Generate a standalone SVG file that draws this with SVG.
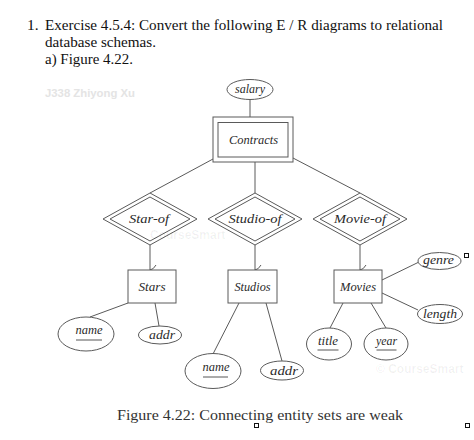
<svg xmlns="http://www.w3.org/2000/svg" width="474" height="440" viewBox="0 0 474 440">
<defs>
<style>
.hd{font-family:"Liberation Serif","Times New Roman",serif;font-size:15.5px;fill:#111}
.lb{font-family:"Liberation Serif","Times New Roman",serif;font-style:italic;font-size:12px;fill:#2a2a2a;text-anchor:middle}
.cap{font-family:"Liberation Serif","Times New Roman",serif;font-size:14px;fill:#333}
.wm{font-family:"Liberation Sans",Arial,sans-serif;font-weight:bold;font-size:10px;fill:#e4e4e4}
.sh{fill:#fff;stroke:#5a5a5a;stroke-width:1}
.ln{fill:none;stroke:#5a5a5a;stroke-width:1}
.ul{stroke:#444;stroke-width:0.9}
.sq{fill:#fff;stroke:#111;stroke-width:1}
</style>
<marker id="arr" viewBox="-6 -7 12 8" refX="0" refY="0" markerWidth="12" markerHeight="8" markerUnits="userSpaceOnUse" orient="auto-start-reverse">
<path d="M-5,-6 Q-0.5,-3.5 0,0 M5,-6 Q0.5,-3.5 0,0" fill="none" stroke="#5a5a5a" stroke-width="1"/>
</marker>
</defs>
<rect width="474" height="440" fill="#fff"/>

<g id="heading">
<text class="hd" x="27" y="30">1.</text>
<text class="hd" x="45" y="30" textLength="398" lengthAdjust="spacingAndGlyphs">Exercise 4.5.4: Convert the following E / R diagrams to relational</text>
<text class="hd" x="45" y="47" textLength="111" lengthAdjust="spacingAndGlyphs">database schemas.</text>
<text class="hd" x="45" y="64" textLength="88" lengthAdjust="spacingAndGlyphs">a) Figure 4.22.</text>
</g>

<g id="connectors">
<line class="ln" x1="250" y1="99" x2="250" y2="117"/>
<line class="ln" x1="213" y1="159" x2="150" y2="193"/>
<line class="ln" x1="255" y1="162" x2="255" y2="193"/>
<line class="ln" x1="293" y1="158" x2="360" y2="193"/>
<line class="ln" x1="150" y1="245" x2="150" y2="270" marker-end="url(#arr)"/>
<line class="ln" x1="255" y1="245" x2="255" y2="270" marker-end="url(#arr)"/>
<line class="ln" x1="360" y1="245" x2="360" y2="270" marker-end="url(#arr)"/>
<line class="ln" x1="382" y1="280" x2="419" y2="262"/>
<line class="ln" x1="382" y1="293" x2="418" y2="310"/>
<line class="ln" x1="343" y1="303" x2="330" y2="328"/>
<line class="ln" x1="371" y1="303" x2="386" y2="328"/>
<line class="ln" x1="128" y1="303" x2="90" y2="317"/>
<line class="ln" x1="155" y1="303" x2="159" y2="326"/>
<line class="ln" x1="239" y1="303" x2="213" y2="354"/>
<line class="ln" x1="266" y1="303" x2="282" y2="361"/>
</g>

<g id="salary">
<ellipse class="sh" cx="250" cy="89.5" rx="23" ry="10"/>
<text class="lb" x="250" y="93" textLength="30" lengthAdjust="spacingAndGlyphs">salary</text>
</g>

<g id="contracts">
<rect class="sh" x="213" y="117" width="80" height="45"/>
<rect class="sh" x="218" y="122.5" width="70" height="34.5"/>
<text class="lb" x="253.5" y="144" textLength="49" lengthAdjust="spacingAndGlyphs">Contracts</text>
</g>

<g id="star-of">
<polygon class="sh" points="150,193 197,219 150,245 103,219"/>
<polygon class="sh" points="150,197 190,219 150,241 110,219"/>
<text class="lb" x="149" y="223" textLength="40" lengthAdjust="spacingAndGlyphs">Star-of</text>
</g>

<g id="studio-of">
<polygon class="sh" points="255,193 302,219 255,245 208,219"/>
<polygon class="sh" points="255,197 295,219 255,241 215,219"/>
<text class="lb" x="255" y="223" textLength="53" lengthAdjust="spacingAndGlyphs">Studio-of</text>
</g>

<g id="movie-of">
<polygon class="sh" points="360,193 407,219 360,245 313,219"/>
<polygon class="sh" points="360,197 400,219 360,241 320,219"/>
<text class="lb" x="360" y="223" textLength="52" lengthAdjust="spacingAndGlyphs">Movie-of</text>
</g>

<g id="stars">
<rect class="sh" x="128" y="270" width="48" height="33"/>
<text class="lb" x="152" y="291" textLength="27" lengthAdjust="spacingAndGlyphs">Stars</text>
</g>

<g id="studios">
<rect class="sh" x="228" y="270" width="49" height="33"/>
<text class="lb" x="252.5" y="291" textLength="36" lengthAdjust="spacingAndGlyphs">Studios</text>
</g>

<g id="movies">
<rect class="sh" x="334" y="270" width="48" height="33"/>
<text class="lb" x="358" y="291" textLength="36" lengthAdjust="spacingAndGlyphs">Movies</text>
</g>

<g id="genre">
<ellipse class="sh" cx="439.5" cy="261" rx="21.5" ry="8.5"/>
<text class="lb" x="438.5" y="264" textLength="31" lengthAdjust="spacingAndGlyphs">genre</text>
</g>

<g id="length">
<ellipse class="sh" cx="440" cy="314" rx="22.5" ry="9.5"/>
<text class="lb" x="440" y="317.5" textLength="34" lengthAdjust="spacingAndGlyphs">length</text>
</g>

<g id="title">
<ellipse class="sh" cx="329" cy="344" rx="22.5" ry="16"/>
<text class="lb" x="328" y="345" textLength="20" lengthAdjust="spacingAndGlyphs">title</text>
<line class="ul" x1="317.5" y1="350" x2="338.5" y2="350"/>
</g>

<g id="year">
<ellipse class="sh" cx="386" cy="344" rx="22" ry="16"/>
<text class="lb" x="386.5" y="345" textLength="21" lengthAdjust="spacingAndGlyphs">year</text>
<line class="ul" x1="376.5" y1="350" x2="396.5" y2="350"/>
</g>

<g id="star-name">
<ellipse class="sh" cx="86" cy="334" rx="28" ry="17"/>
<text class="lb" x="89" y="334" textLength="27" lengthAdjust="spacingAndGlyphs">name</text>
<line class="ul" x1="76" y1="340" x2="102" y2="340"/>
</g>

<g id="star-addr">
<ellipse class="sh" cx="160" cy="335" rx="21.5" ry="9"/>
<text class="lb" x="162" y="339" textLength="26" lengthAdjust="spacingAndGlyphs">addr</text>
</g>

<g id="studio-name">
<ellipse class="sh" cx="213" cy="371" rx="28" ry="17.5"/>
<text class="lb" x="216" y="371" textLength="27" lengthAdjust="spacingAndGlyphs">name</text>
<line class="ul" x1="203" y1="377" x2="228" y2="377"/>
</g>

<g id="studio-addr">
<ellipse class="sh" cx="282" cy="370.5" rx="21.5" ry="9.5"/>
<text class="lb" x="284" y="375" textLength="28" lengthAdjust="spacingAndGlyphs">addr</text>
</g>

<g id="caption">
<text class="cap" x="117" y="420" textLength="286" lengthAdjust="spacingAndGlyphs">Figure 4.22: Connecting entity sets are weak</text>
</g>

<g id="marks">
<rect class="sq" x="254.5" y="423.5" width="4" height="4"/>
<rect class="sq" x="465.5" y="423.5" width="4" height="4"/>
<rect class="sq" x="464.5" y="253.5" width="4" height="4"/>
</g>

<g id="watermarks">
<text class="wm" x="45" y="97" textLength="90" lengthAdjust="spacingAndGlyphs">J338 Zhiyong Xu</text>
<text class="wm" x="150" y="239" style="fill:#000;fill-opacity:0.06;font-size:12px">CourseSmart</text>
<text class="wm" x="376" y="373" style="fill:#000;fill-opacity:0.06;font-size:12px">© CourseSmart</text>
</g>
</svg>
